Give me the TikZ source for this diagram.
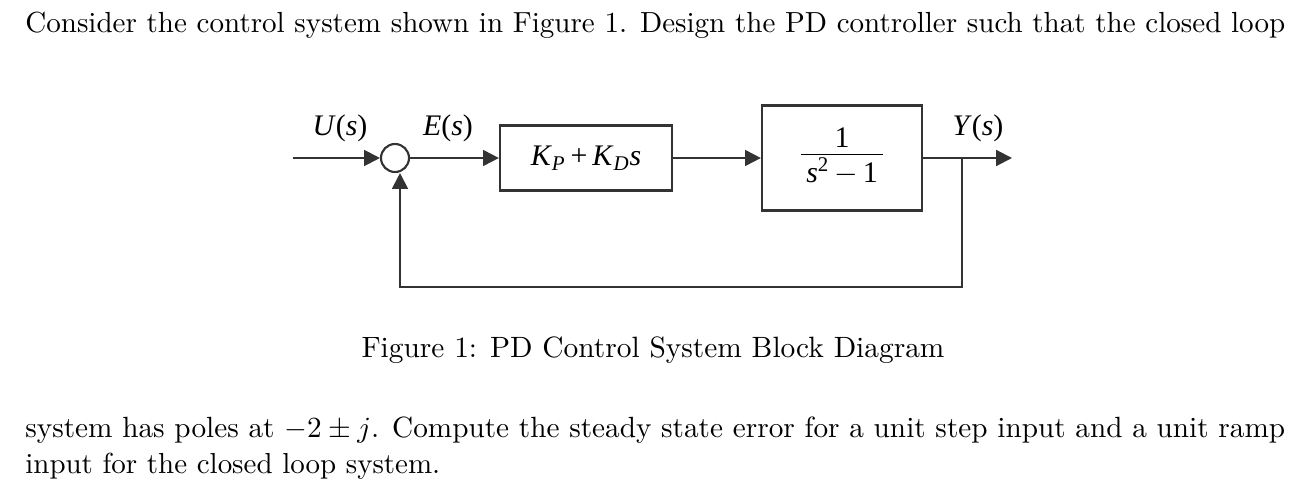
\documentclass[tikz,border=0pt]{standalone}
\usepackage{amsmath}
\usepackage{fontspec}
\newfontfamily\tnr{Liberation Serif}
\usetikzlibrary{arrows.meta}
\begin{document}
\begin{tikzpicture}[x=0.02cm,y=-0.02cm,
  blk/.style={draw=black!80,line width=1.3pt,inner sep=0pt},
  sig/.style={draw=black!80,line width=1.2pt},
  arr/.style={sig,-{Triangle[length=9pt,width=9pt]}},
  lbl/.style={font=\tnr\fontsize{17}{20}\selectfont}]
\useasboundingbox (0,0) rectangle (1311,493);
\node[anchor=west,inner sep=0] (t1) at (25,25) {\resizebox{25.2cm}{!}{Consider the control system shown in Figure 1. Design the PD controller such that the closed loop}};
\node[inner sep=0] (cap) at (653,350) {\resizebox{11.66cm}{!}{Figure 1: PD Control System Block Diagram}};
\node[anchor=west,inner sep=0] (t2) at (25,430) {\resizebox{25.2cm}{!}{system has poles at $-2\pm j$. Compute the steady state error for a unit step input and a unit ramp}};
\node[anchor=west,inner sep=0] (t3) at (25,466) {\resizebox{8.3cm}{!}{input for the closed loop system.}};
\coordinate (in) at (293,158);
\node[draw=black!80,line width=1.2pt,circle,minimum size=0.56cm,inner sep=0] (sum) at (395,158) {};
\node[blk,minimum width=3.44cm,minimum height=1.3cm,lbl] (b1) at (586,158) {\textit{K}\textsubscript{\textit{P}}\,+\,\textit{K}\textsubscript{\textit{D}}\textit{s}};
\node[blk,minimum width=3.2cm,minimum height=2.1cm,lbl] (b2) at (842,158) {\begin{tabular}{@{\,}c@{\,}}1\\[-2pt]\hline\rule{0pt}{16pt}\textit{s}\textsuperscript{2}\,$-$\,1\end{tabular}};
\coordinate (out) at (1012,158);
\coordinate (br) at (962,158);
\coordinate (c1) at (962,287);
\coordinate (c2) at (400,287);
\node[lbl] (U) at (340,128) {\textit{U}(\textit{s})};
\node[lbl] (E) at (448,128) {\textit{E}(\textit{s})};
\node[lbl] (Y) at (978,128) {\textit{Y}(\textit{s})};
\draw[arr] (in) -- (sum.west);
\draw[arr] (sum.east) -- (b1.west);
\draw[arr] (b1.east) -- (b2.west);
\draw[arr] (b2.east) -- (out);
\draw[arr] (br) -- (c1) -- (c2) -- (sum.south -| c2);
\end{tikzpicture}
\end{document}
